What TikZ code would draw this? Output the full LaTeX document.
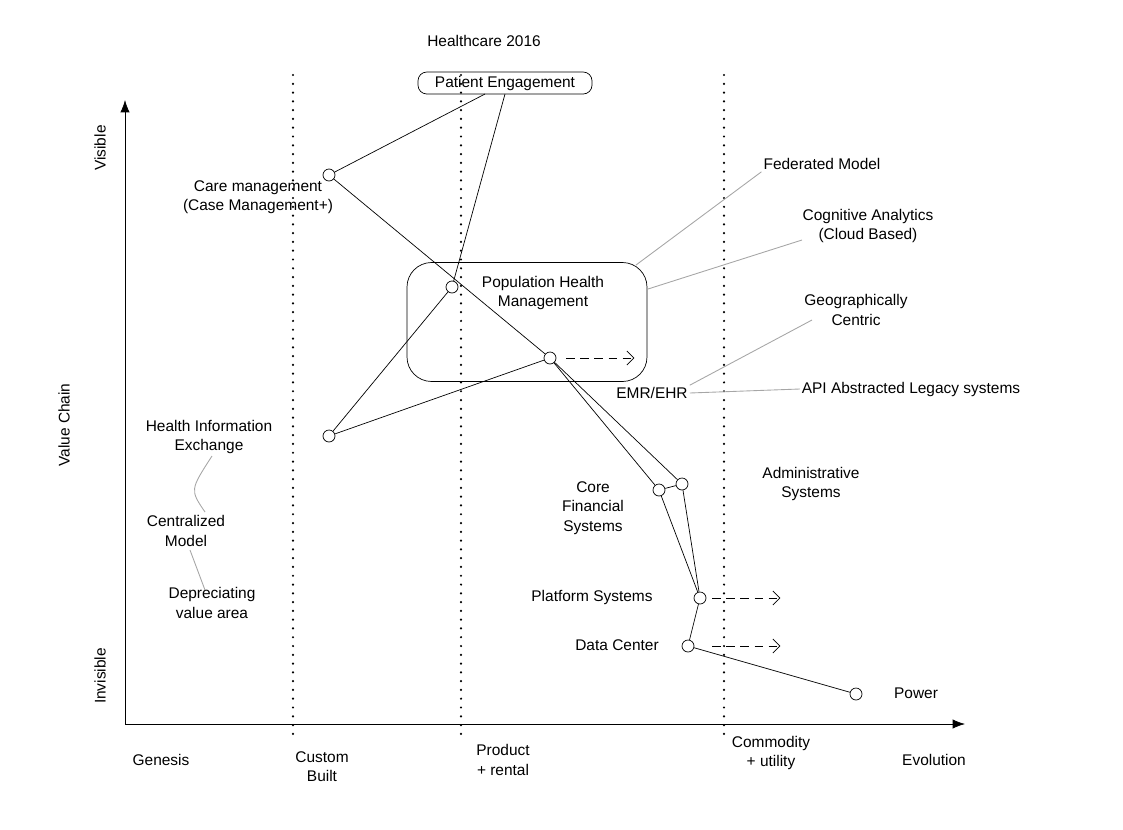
\documentclass[tikz,border=0pt]{standalone}
\usepackage{fontspec}
\setmainfont{Liberation Sans}
\usetikzlibrary{arrows.meta}
\begin{document}
\begin{tikzpicture}[x=0.02cm,y=-0.02cm,
  lbl/.style={font=\fontsize{8.8}{11}\selectfont,align=center,inner sep=1pt},
  pt/.style={circle,draw,minimum size=12*0.02cm,inner sep=0pt},
  dotv/.style={line width=1.4pt,dash pattern=on 0pt off 5pt,line cap=round},
  gl/.style={draw=gray!70,line width=0.5pt},
  da/.style={dash pattern=on 5pt off 3pt,-{Straight Barb[length=4pt]}}]
\useasboundingbox (0,0) rectangle (1123,829);
% axes
\coordinate (o) at (125,724);
\coordinate (ytop) at (125,100);
\coordinate (xend) at (965,724);
\draw[-{Latex[length=7pt]}] (o) -- (ytop);
\draw[-{Latex[length=7pt]}] (o) -- (xend);
\foreach \x in {293,461,724} \draw[dotv] (\x,75) -- (\x,735);
% axis labels
\node[lbl,rotate=90] at (100,148) {Visible};
\node[lbl,rotate=90] at (64,425) {Value Chain};
\node[lbl,rotate=90] at (100,676) {Invisible};
\node[lbl] at (161,760) {Genesis};
\node[lbl] at (322,767) {Custom\\Built};
\node[lbl] at (503,760) {Product\\+ rental};
\node[lbl] at (771,753) {Commodity\\+ utility};
\node[lbl] at (934,760) {Evolution};
\node[lbl] at (484,41) {Healthcare 2016};
% box
\node[draw,rounded corners=14pt,minimum width=240*0.02cm,minimum height=119*0.02cm] (box) at (527,322) {};
\node[draw,rounded corners=5pt,lbl,minimum width=174*0.02cm,minimum height=22*0.02cm] (pe) at (505,83) {Patient Engagement};
% points
\node[pt] (care) at (329,175) {};
\node[pt] (phm) at (452,287) {};
\node[pt] (mid) at (550,358) {};
\node[pt] (hie) at (329,436) {};
\node[pt] (cf1) at (659,490) {};
\node[pt] (cf2) at (682,484) {};
\node[pt] (plat) at (700,598) {};
\node[pt] (dc) at (688,646) {};
\node[pt] (pow) at (856,694) {};
% lines
\draw (care) -- (485,94);
\draw (505,94) -- (phm) -- (hie);
\draw (care) -- (mid);
\draw (hie) -- (mid);
\draw (mid) -- (cf1) -- (plat);
\draw (mid) -- (cf2) -- (plat);
\draw (cf1) -- (cf2);
\draw (plat) -- (dc) -- (pow);
\draw[da] (mid.east) ++(10,0) -- ++(68,0);
\draw[da] (plat.east) ++(6,0) -- ++(68,0);
\draw[da] (dc.east) ++(18,0) -- ++(68,0);
% labels
\node[lbl] (carel) at (258,197) {Care management\\(Case Management+)};
\node[lbl] at (543,293) {Population Health\\Management};
\node[lbl] (fed) at (822,164) {Federated Model};
\node[lbl] (cog) at (868,226) {Cognitive Analytics\\(Cloud Based)};
\node[lbl] (geo) at (856,310) {Geographically\\Centric};
\node[lbl] (emr) at (652,393) {EMR/EHR};
\node[lbl] (api) at (911,389) {API Abstracted Legacy systems};
\node[lbl] at (811,484) {Administrative\\Systems};
\node[lbl] at (593,508) {Core\\Financial\\Systems};
\node[lbl] at (592,597) {Platform Systems};
\node[lbl] at (617,645) {Data Center};
\node[lbl] at (916,693) {Power};
\node[lbl] (hiel) at (209,437) {Health Information\\Exchange};
\node[lbl] (cen) at (186,531) {Centralized\\Model};
\node[lbl] (dep) at (212,603) {Depreciating\\value area};
% gray connectors
\draw[gl] (636,265) -- (fed.south west);
\draw[gl] (648,289) -- (802,240);
\draw[gl] (emr.north east) -- (812,320);
\draw[gl] (emr.east) -- (api.west);
\draw[gl] (212,456) .. controls (190,490) .. (205,512);
\draw[gl] (190,550) .. controls (198,570) .. (205,590);
\end{tikzpicture}
\end{document}
